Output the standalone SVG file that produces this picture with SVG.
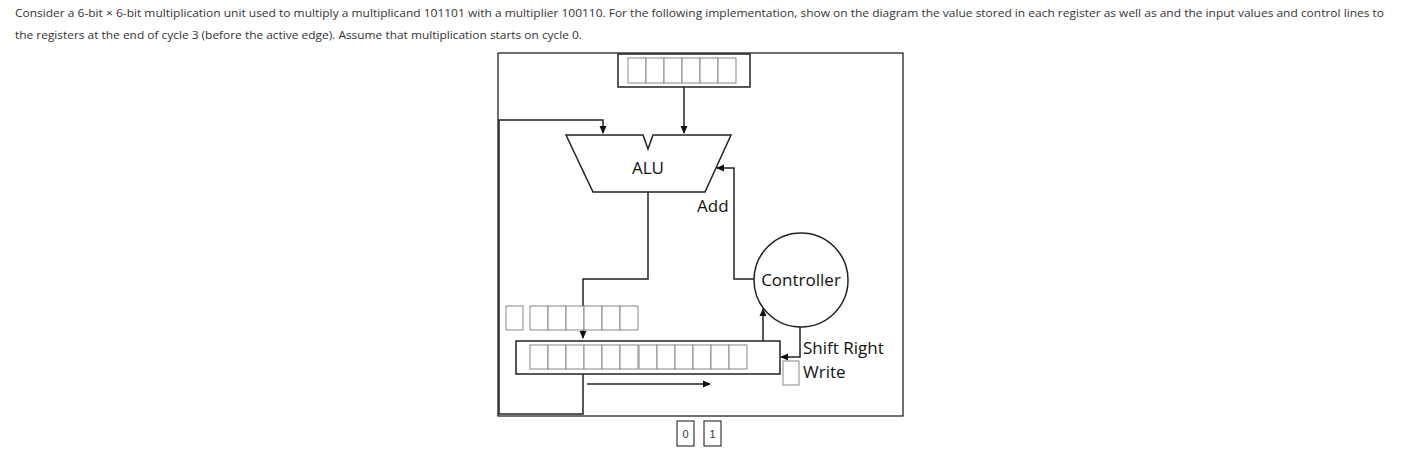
<svg xmlns="http://www.w3.org/2000/svg" width="1401" height="466" viewBox="0 0 1401 466">
<style>
.t{font-family:"Open Sans","DejaVu Sans",sans-serif;font-size:11px;fill:#333}
.l{font-family:"Open Sans","Liberation Sans",sans-serif;font-size:17px;fill:#111}
.c{fill:#fff;stroke:#888;stroke-width:1}
.s{fill:none;stroke:#222;stroke-width:1.5}
.w{fill:#fff;stroke:#222;stroke-width:1.5}
.b{fill:#fff;stroke:#111;stroke-width:1}
.n{font-family:"Liberation Sans",sans-serif;font-size:11px;fill:#333;text-anchor:middle}
</style>
<defs><marker id="a" markerWidth="8" markerHeight="8" refX="7" refY="4" orient="auto" markerUnits="userSpaceOnUse"><path d="M0,0.5 L8,4 L0,7.5 z" fill="#111"/></marker></defs>
<rect width="1401" height="466" fill="#fff"/>
<text class="t" x="15" y="17" textLength="1369" lengthAdjust="spacingAndGlyphs">Consider a 6-bit × 6-bit multiplication unit used to multiply a multiplicand 101101 with a multiplier 100110. For the following implementation, show on the diagram the value stored in each register as well as and the input values and control lines to</text>
<text class="t" x="15" y="39" textLength="567" lengthAdjust="spacingAndGlyphs">the registers at the end of cycle 3 (before the active edge). Assume that multiplication starts on cycle 0.</text>
<rect x="498" y="53" width="405" height="363" fill="#fff" stroke="#111" stroke-width="1.2"/>
<g id="connectors">
<path class="s" d="M684,87 V133" marker-end="url(#a)"/>
<path class="s" d="M583,374 V414 H499 V120 H603 V133" marker-end="url(#a)"/>
<path class="s" d="M648,192 V279 H583 V338" marker-end="url(#a)"/>
<path class="s" d="M755,279 H734 V168 H717" marker-end="url(#a)"/>
<path class="s" d="M763,341 V309" marker-end="url(#a)"/>
<path class="s" d="M800,327 V357 H781" marker-end="url(#a)"/>
<path class="s" d="M587,384 H710" marker-end="url(#a)"/>
</g>
<g id="multiplicand">
<rect class="w" x="618" y="54" width="132" height="33"/>
<rect class="c" x="628" y="58" width="18" height="25"/><rect class="c" x="646" y="58" width="18" height="25"/><rect class="c" x="664" y="58" width="18" height="25"/><rect class="c" x="682" y="58" width="18" height="25"/><rect class="c" x="700" y="58" width="18" height="25"/><rect class="c" x="718" y="58" width="18" height="25"/>
</g>
<g id="alu">
<path class="w" d="M566,135 H643 L648,149 L653,135 H731 L705,192 H593 Z"/>
<text class="l" x="648" y="174" text-anchor="middle">ALU</text>
</g>
<text class="l" x="697" y="212">Add</text>
<g id="controller">
<circle class="w" cx="801" cy="280" r="47"/>
<text class="l" x="801" y="286" text-anchor="middle">Controller</text>
</g>
<g id="carry">
<rect class="c" x="506" y="306" width="17" height="24"/>
<rect class="c" x="530" y="306" width="18" height="24"/><rect class="c" x="548" y="306" width="18" height="24"/><rect class="c" x="566" y="306" width="18" height="24"/><rect class="c" x="584" y="306" width="18" height="24"/><rect class="c" x="602" y="306" width="18" height="24"/><rect class="c" x="620" y="306" width="18" height="24"/>
</g>
<g id="product">
<rect class="w" x="516" y="341" width="264" height="33"/>
<rect class="c" x="530" y="345" width="18" height="24"/><rect class="c" x="548" y="345" width="18" height="24"/><rect class="c" x="566" y="345" width="18" height="24"/><rect class="c" x="584" y="345" width="18" height="24"/><rect class="c" x="602" y="345" width="18" height="24"/><rect class="c" x="620" y="345" width="18" height="24"/>
<rect class="c" x="639" y="345" width="18" height="24"/><rect class="c" x="657" y="345" width="18" height="24"/><rect class="c" x="675" y="345" width="18" height="24"/><rect class="c" x="693" y="345" width="18" height="24"/><rect class="c" x="711" y="345" width="18" height="24"/><rect class="c" x="729" y="345" width="18" height="24"/>
</g>
<text class="l" x="803" y="354">Shift Right</text>
<g id="write"><rect class="c" x="783" y="361" width="16" height="24"/><text class="l" x="803" y="378">Write</text></g>
<g id="bit0"><rect class="b" x="677" y="421" width="17" height="25"/><text class="n" x="685.5" y="438">0</text></g>
<g id="bit1"><rect class="b" x="704" y="421" width="17" height="25"/><text class="n" x="712.5" y="438">1</text></g>
</svg>
